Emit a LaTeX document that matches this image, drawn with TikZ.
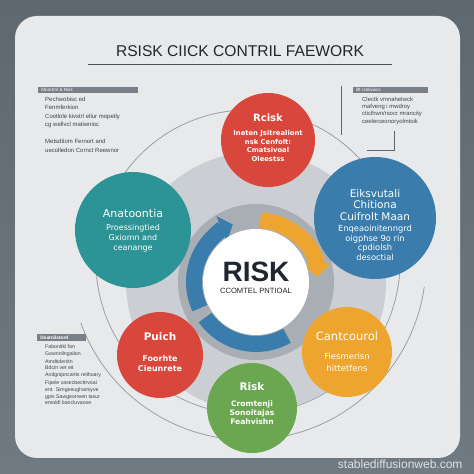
\documentclass[tikz,border=0pt]{standalone}
\usepackage{fontspec}
\setmainfont{Liberation Sans}
\newfontfamily\circfont{DejaVu Sans}
\usetikzlibrary{arrows.meta}

\definecolor{bgtop}{HTML}{5E6871}
\definecolor{bgbot}{HTML}{6F7A83}
\definecolor{card}{HTML}{E8E9EB}
\definecolor{ink}{HTML}{1F262D}
\definecolor{smallink}{HTML}{3D4349}
\definecolor{barg}{HTML}{7A8087}
\definecolor{bandg}{HTML}{CBCED2}
\definecolor{ringg}{HTML}{A9AEB4}
\definecolor{lineg}{HTML}{9A9FA5}
\definecolor{riskred}{HTML}{D9473C}
\definecolor{tealc}{HTML}{2C9396}
\definecolor{bluec}{HTML}{3A7CAB}
\definecolor{orangec}{HTML}{EDA530}
\definecolor{greenc}{HTML}{6BA650}

\begin{document}
\begin{tikzpicture}[x=1pt,y=1pt,
  disc/.style={circle, fill=#1, draw=none, inner sep=0pt},
  head/.style={text=white, align=center},
  body/.style={text=white, align=center},
  bar/.style={text=white, font=\fontsize{4.6}{5}\selectfont, inner sep=1.2pt, anchor=west},
  notes/.style={text=smallink, align=left, anchor=north west, inner sep=0pt}]
  \useasboundingbox (0,0) rectangle (474,474);
  \shade[top color=bgtop, bottom color=bgbot] (0,0) rectangle (474,474);
  \fill[card, rounded corners=22pt] (15,16) rectangle (460,458);

  % title
  \node[text=ink, font=\fontsize{15.6}{18}\selectfont] (title) at (240,423) {RSISK CIICK CONTRIL FAEWORK};
  \draw[ink!80, line width=0.8pt] (88,410) -- (392,410);

  % rings
  \coordinate (ctr) at (256,192);
  \draw[lineg, line width=0.8pt] (248,212) circle (152);
  \draw[lineg, line width=0.8pt] (248,212) ++(200:178) arc[start angle=200, end angle=352, radius=178];
  \fill[bandg] (ctr) circle (130);
  \fill[ringg] (ctr) circle (78);
  \draw[bluec, line width=16pt, -{Triangle[length=12pt, width=27pt]}] (ctr) ++(205:62) arc[start angle=205, end angle=112, radius=62];
  \draw[orangec, line width=16pt, -{Triangle[length=12pt, width=27pt]}] (ctr) ++(86:62) arc[start angle=86, end angle=5, radius=62];
  \draw[bluec, line width=16pt] (ctr) ++(300:62) arc[start angle=300, end angle=215, radius=62];
  \node[disc=white, minimum size=106pt] (core) at (ctr) {};
  \node[text=ink, font=\bfseries\fontsize{28}{30}\selectfont] (coreT) at ([yshift=10pt]core.center) {RISK};
  \node[text=ink, font=\fontsize{7.6}{9}\selectfont] (coreB) at ([yshift=-9pt]core.center) {CCOMTEL PNTIOAL};

  % top red
  \node[disc=riskred, minimum size=94pt] (top) at (268,334) {};
  \node[head, font=\circfont\bfseries\fontsize{10}{12}\selectfont] (topH) at ([yshift=22pt]top.center) {Rcisk};
  \node[body, font=\circfont\bfseries\fontsize{6.8}{8.5}\selectfont] (topB) at ([yshift=-6pt]top.center) {Ineten Jsitrealiont\\nsk Cenfolt:\\Cmatsivoal\\Oleestss};

  % left teal
  \node[disc=tealc, minimum size=116pt] (left) at (133,244) {};
  \node[head, font=\circfont\fontsize{11}{13}\selectfont] (leftH) at ([yshift=17pt]left.center) {Anatoontia};
  \node[body, font=\circfont\fontsize{8}{10}\selectfont] (leftB) at ([yshift=-8pt]left.center) {Proessingtied\\Gxiomn and\\ceanange};

  % right blue
  \node[disc=bluec, minimum size=122pt] (right) at (375,256) {};
  \node[head, font=\circfont\fontsize{10.5}{11.6}\selectfont] (rightH) at ([yshift=13pt]right.center) {Eiksvutali\\Chitiona\\Cuifrolt Maan};
  \node[body, font=\circfont\fontsize{8.3}{9.6}\selectfont] (rightB) at ([yshift=-25pt]right.center) {Enqeaoinitenngrd\\oigphse 9o rin\\cpdiolsh\\desoctial};

  % bottom red
  \node[disc=riskred, minimum size=86pt] (lowL) at (160,119) {};
  \node[head, font=\circfont\bfseries\fontsize{10.5}{12}\selectfont] (lowLH) at ([yshift=18pt]lowL.center) {Puich};
  \node[body, font=\circfont\bfseries\fontsize{8}{10}\selectfont] (lowLB) at ([yshift=-9pt]lowL.center) {Foorhte\\Cieunrete};

  % orange
  \node[disc=orangec, minimum size=90pt] (lowR) at (347,122) {};
  \node[head, font=\circfont\fontsize{11.5}{13}\selectfont] (lowRH) at ([yshift=16pt]lowR.center) {Cantcourol};
  \node[body, font=\circfont\fontsize{8.5}{12}\selectfont] (lowRB) at ([yshift=-10pt]lowR.center) {Fiesmerisn\\hittetfens};

  % green
  \node[disc=greenc, minimum size=90pt] (bot) at (252,66) {};
  \node[head, font=\circfont\bfseries\fontsize{10.5}{12}\selectfont] (botH) at ([yshift=21pt]bot.center) {Risk};
  \node[body, font=\circfont\bfseries\fontsize{7.6}{9}\selectfont] (botB) at ([yshift=-5pt]bot.center) {Cromtenji\\Sonoitajas\\Feahvishn};

  % side notes
  \fill[barg] (38,381) rectangle (138,387);
  \node[bar] (noteAh) at (40,384) {Monrtrnl \& Risk};
  \node[notes, font=\fontsize{6}{8.3}\selectfont] (noteA) at (45,377) {Pechwobisc ed\\Fenmferkion\\Cootlole kivstrl ellur mopetly\\cg wellvcl matiwnioc\\[9pt]Metsdtiom Fernort and\\uecolledon Cornct Reewnor};

  \fill[barg] (353,381) rectangle (428,387);
  \node[bar] (noteBh) at (355,384) {Bt rcnlwwcs};
  \node[notes, font=\fontsize{5.9}{7.2}\selectfont] (noteB) at (362,377) {Clectk vmnahetwck\\mafveng i mwdroy\\cticlhwn/rsocr mrancity\\ceelerceonoryolmtoik};
  \draw[ink!70, line width=0.6pt] (341,388) -- (341,339);
  \draw[ink!70, line width=0.6pt] (394,343) -- (394,324) -- (367,324);

  \fill[barg] (37,133) rectangle (86,140);
  \node[bar, font=\bfseries\fontsize{4.8}{5}\selectfont] (noteCh) at (39,136.5) {Deatnilstord};
  \node[notes, font=\fontsize{5.2}{6.6}\selectfont] (noteC) at (45,129) {Fabonitkl fan\\Gownnilngalion\\[1pt]Amdtidenitn\\Bdcin vet eit\\Andgnipncartis relihoary\\[2pt]Fipele vasecbecttrvoai\\ent. Simgeeughamiyve\\gpis Sawgeorreen tasur\\emoldl bancluvaose};

  % watermark
  \node[text=white!78!bgbot, font=\fontsize{12}{14}\selectfont, anchor=east] (mark) at (466,10) {stablediffusionweb.com};
\end{tikzpicture}
\end{document}
